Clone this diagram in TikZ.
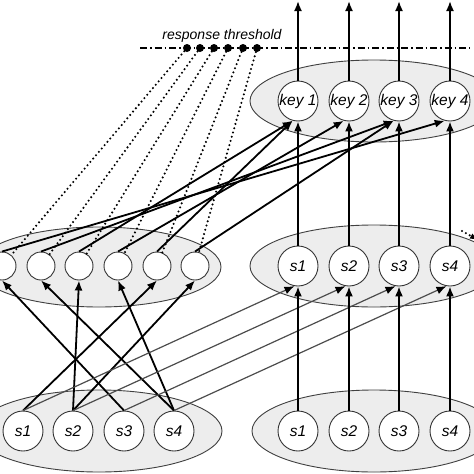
\documentclass[tikz,border=0pt]{standalone}
\usepackage{fontspec}
\setmainfont{Liberation Sans}
\usetikzlibrary{arrows.meta}
\begin{document}
\begin{tikzpicture}[x=1pt,y=-1pt,
  bigc/.style={circle, draw=black!80, fill=white, minimum size=40pt, inner sep=0pt, font=\fontsize{15.5}{16}\selectfont\itshape, line width=0.9pt},
  smallc/.style={circle, draw=black!80, fill=white, minimum size=28pt, inner sep=0pt, line width=0.9pt},
  layer/.style={draw=black!75, fill=black!7, line width=0.9pt},
  conn/.style={line width=1.8pt, -{Latex[length=10pt,width=8pt]}},
  gconn/.style={line width=1.2pt, draw=black!70, -{Latex[length=10pt,width=8pt,fill=black,color=black]}},
  dotl/.style={line width=2.3pt, dash pattern=on 0pt off 4.4pt, line cap=round},
  thdot/.style={circle, fill=black, minimum size=8pt, inner sep=0pt},
  dashdotl/.style={line width=1.1pt, dash pattern=on 7pt off 3pt on 1.5pt off 3pt}
]
\clip (0,0) rectangle (474,474);
\fill[white] (0,0) rectangle (474,474);
% layers
\draw[layer] (374,101) ellipse [x radius=124pt, y radius=41pt];
\draw[layer] (374,266) ellipse [x radius=124pt, y radius=41pt];
\draw[layer] (374,431) ellipse [x radius=122pt, y radius=41pt];
\draw[layer] (99,431) ellipse [x radius=123pt, y radius=41pt];
\draw[layer] (99,267) ellipse [x radius=122pt, y radius=40pt];
% threshold
\coordinate (thl) at (140,48);
\coordinate (thr) at (470,48);
\draw[dashdotl] (thl) -- (thr);
\node[font=\fontsize{14}{15}\selectfont\itshape] (rt) at (222,36) {response threshold};
\foreach \i/\x in {1/187,2/200,3/214,4/228,5/243,6/257}
  \node[thdot] (d\i) at (\x,48) {};
% key nodes
\foreach \i/\x in {1/298,2/349,3/399,4/450}{
  \node[bigc] (k\i) at (\x,101) {key \i};
  \node[bigc] (m\i) at (\x,266) {s\i};
  \node[bigc] (r\i) at (\x,431) {s\i};
  \coordinate (t\i) at (\x,1);
}
\foreach \i/\x in {1/23,2/73,3/124,4/174}
  \node[bigc] (b\i) at (\x,431) {s\i};
\foreach \i/\x in {1/2,2/41,3/79,4/118,5/157,6/195}
  \node[smallc] (h\i) at (\x,266) {};
% dotted threshold links
\foreach \i in {1,...,6}
  \draw[dotl] (d\i) -- (h\i);
% input to hidden
\draw[conn] (b1.north) -- (h5.south);
\draw[conn] (b2.north) -- (h3.south);
\draw[conn] (b2.north) -- (h6.south);
\draw[conn] (b3.north) -- (h1.south);
\draw[conn] (b4.north) -- (h2.south);
\draw[conn] (b4.north) -- (h4.south);
% input to middle s layer
\foreach \i in {1,...,4}
  \draw[gconn] (b\i.north) -- (m\i.260);
% hidden to keys
\draw[conn] (h1.north) -- (k4.255);
\draw[conn] (h2.north) -- (k3.255);
\draw[conn] (h3.north) -- (k1.255);
\draw[conn] (h4.north) -- (k2.255);
\draw[conn] (h5.north) -- (k1.255);
\draw[conn] (h6.north) -- (k3.255);
% verticals
\foreach \i in {1,...,4}{
  \draw[conn] (r\i.north) -- (m\i.south);
  \draw[conn] (m\i.north) -- (k\i.south);
  \draw[conn] (k\i.north) -- (t\i);
}
% fragment at right edge
\coordinate (fa) at (462,231);
\coordinate (fb) at (478,240);
\draw[dotl, -{Latex[length=8pt,width=6pt]}] (fa) -- (fb);
\end{tikzpicture}
\end{document}
